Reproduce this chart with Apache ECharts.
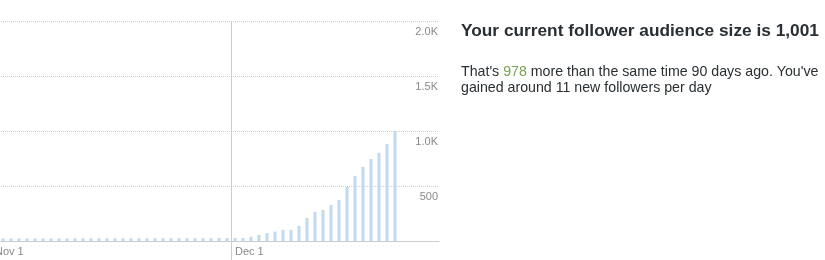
<!DOCTYPE html>
<html>
<head>
<meta charset="utf-8">
<script src="https://cdn.jsdelivr.net/npm/echarts@6/dist/echarts.min.js"></script>
<style>
  html, body { margin: 0; padding: 0; background: #fff; overflow: hidden; }
  /* the Nov 1 boundary sits just off the left edge, so the canvas starts 9px left of the page */
  #chart { width: 834px; height: 260px; margin-left: -9px; }
</style>
</head>
<body>
<div id="chart"></div>
<script>
// days shown on the axis: Nov 1 .. Dec 26 (one bar slot each)
var dayLabels = [];
for (var d = 1; d <= 30; d++) dayLabels.push('Nov ' + d);
for (var d = 1; d <= 26; d++) dayLabels.push('Dec ' + d);
// day boundaries (start of each day, plus the end of the last one)
var boundaryLabels = dayLabels.concat(['Dec 27']);

// follower counts (Nov 1 .. Dec 21)
var novFollowers = [24, 24, 24, 24, 24, 24, 24, 24, 24, 24,
                    25, 25, 25, 25, 25, 25, 25, 25, 25, 25,
                    26, 26, 26, 26, 26, 26, 26, 26, 27, 27];
var decFollowers = [27, 28, 38, 55, 73, 85, 101, 101, 136, 209,
                    266, 282, 328, 373, 491, 592, 675, 745, 802, 882, 1001];

var yTicks = [0, 500, 1000, 1500, 2000];

var followers = novFollowers.concat(decFollowers);

function isMonthStart(i) {
    return /\s1$/.test(boundaryLabels[i]);
}

var myChart = echarts.init(document.getElementById('chart'), null, {renderer: 'canvas'});
var option = {
    animation: false,
    grid: {
        left: 0,
        right: 386,
        top: 21,
        bottom: 19
    },
    xAxis: [
        {
            // bars
            type: 'category',
            data: dayLabels,
            boundaryGap: true,
            axisLine: {lineStyle: {color: '#cccccc', width: 1}},
            axisTick: {show: false},
            splitLine: {show: false},
            axisLabel: {show: false}
        },
        {
            // month marks on day boundaries
            type: 'category',
            data: boundaryLabels,
            boundaryGap: false,
            position: 'bottom',
            axisLine: {show: false},
            axisTick: {
                interval: function (i) { return isMonthStart(i); },
                length: 19,
                lineStyle: {color: '#cccccc'}
            },
            splitLine: {
                show: true,
                interval: function (i) { return isMonthStart(i); },
                lineStyle: {color: '#cccccc', type: 'solid'}
            },
            axisLabel: {
                interval: function (i) { return isMonthStart(i); },
                align: 'left',
                padding: [0, 0, 0, 4],
                margin: 5,
                color: '#8a8a8a',
                fontFamily: 'Liberation Sans',
                fontSize: 11
            }
        }
    ],
    yAxis: {
        type: 'value',
        position: 'right',
        min: yTicks[0],
        max: yTicks[yTicks.length - 1],
        interval: 500,
        axisLine: {show: false},
        axisTick: {show: false},
        splitLine: {lineStyle: {color: '#cfcfcf', type: [1, 1]}},
        axisLabel: {
            inside: true,
            margin: 1,
            verticalAlign: 'top',
            padding: [5, 0, 0, 0],
            color: '#8a8a8a',
            fontFamily: 'Liberation Sans',
            fontSize: 11,
            formatter: function (v) {
                if (v === 0) return '';
                if (v >= 1000) return (v / 1000).toFixed(1) + 'K';
                return String(v);
            }
        }
    },
    series: [{
        type: 'bar',
        xAxisIndex: 0,
        data: followers,
        barWidth: 3,
        itemStyle: {color: '#c1daf0'}
    }],
    graphic: [
        {
            type: 'text',
            left: 470,
            top: 23,
            style: {
                text: 'Your current follower audience size is 1,001',
                font: 'bold 17.3px "Liberation Sans", Arial, sans-serif',
                fill: '#292f33'
            }
        },
        {
            type: 'text',
            left: 470,
            top: 65,
            style: {
                text: "{a|That's }{g|978}{a| more than the same time 90 days ago. You've}\n{a|gained around 11 new followers per day}",
                rich: {
                    a: {font: '14.2px "Liberation Sans", Arial, sans-serif', fill: '#292f33', lineHeight: 16},
                    g: {font: '14.2px "Liberation Sans", Arial, sans-serif', fill: '#77a252', lineHeight: 16}
                }
            }
        }
    ]
};
myChart.setOption(option);
</script>
</body>
</html>
